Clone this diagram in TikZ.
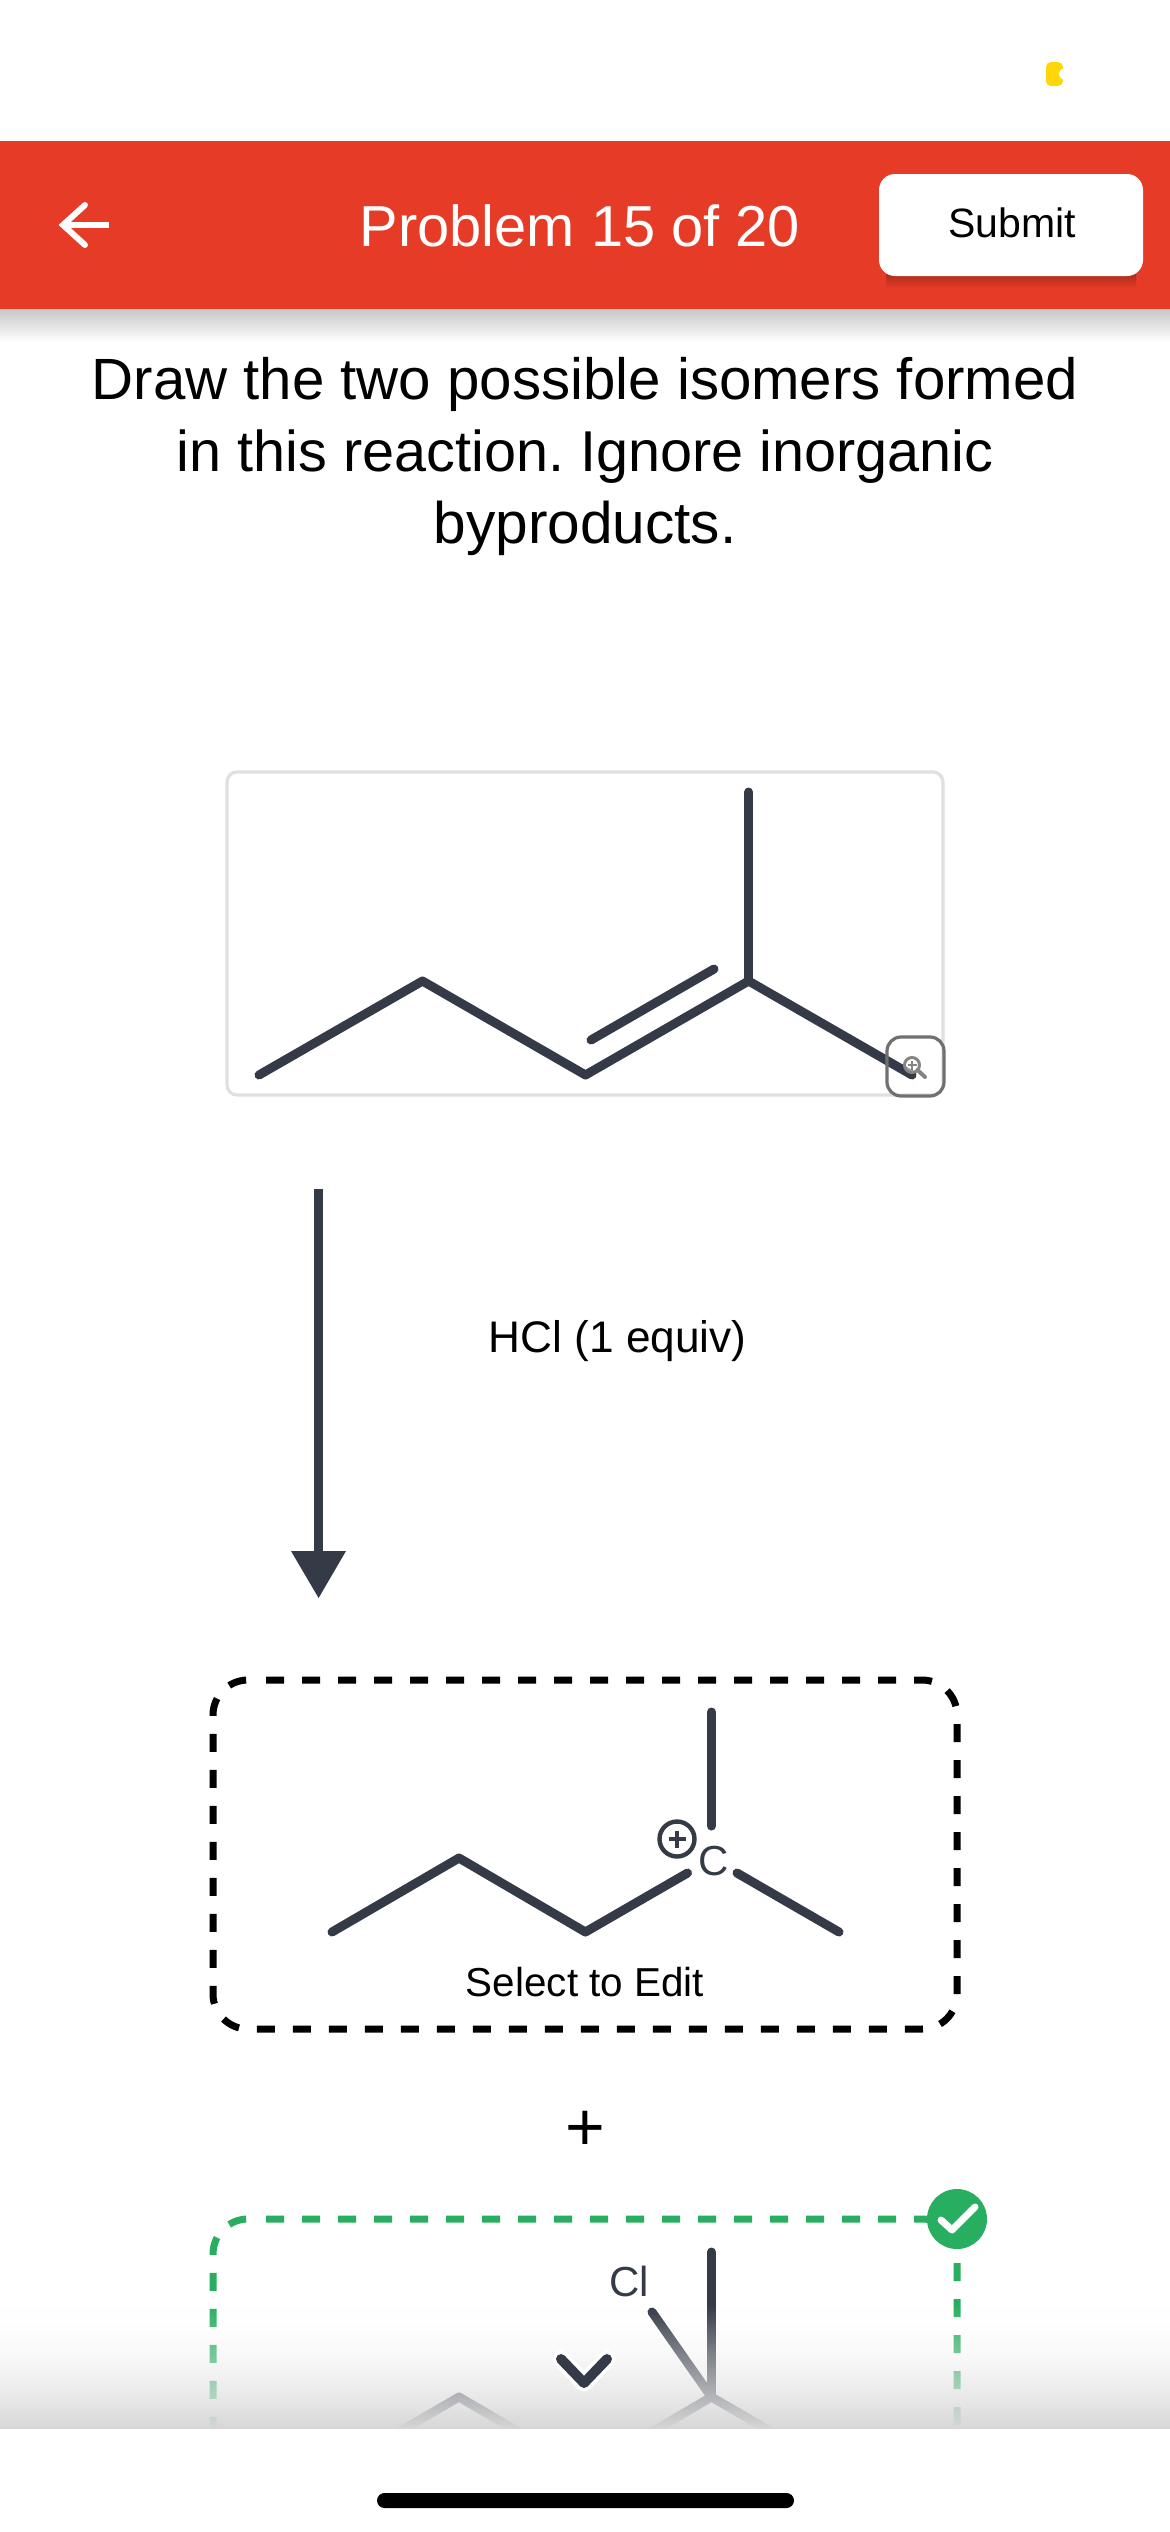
\documentclass[tikz,border=0pt]{standalone}
\usepackage{fontspec}
\setmainfont{Liberation Sans}
\usetikzlibrary{fadings,arrows.meta}
\definecolor{ink}{HTML}{343A46}
\definecolor{redbar}{HTML}{E63B26}
\definecolor{okgreen}{HTML}{27AE60}
\tikzfading[name=risefade, top color=transparent!100, bottom color=transparent!0]
\tikzset{
  bond/.style={draw=ink,line width=4.5pt,line cap=round,line join=round},
  dashbox/.style={line width=3.5pt,dash pattern=on 9pt off 9pt,dash phase=9pt,rounded corners=17.5pt},
  txt/.style={inner sep=0pt,outer sep=0pt,anchor=base},
}
\newcommand{\fs}[1]{\fontsize{#1}{#1}\selectfont}
\frenchspacing
\begin{document}
\begin{tikzpicture}[x=0.5pt,y=-0.5pt]
\useasboundingbox (0,0) rectangle (1170,2532);
\fill[white] (0,0) rectangle (1170,2532);
% status mark
\fill[rounded corners=2.5pt,fill={rgb,255:red,255;green,214;blue,10}] (1046,62) rectangle (1063,86);
\fill[white] (1064,68) .. controls (1057,71) and (1057,77) .. (1064,80) -- cycle;
% header shadow
\shade[top color=black!22,bottom color=white] (0,309) rectangle (1170,342);
\fill[redbar] (0,141) rectangle (1170,309);
\shade[top color=black!24!redbar,bottom color=redbar] (886,274) rectangle (1136,288);
\fill[white,rounded corners=8pt] (879,174) rectangle (1143,276);
\coordinate (bt) at (109,225); \coordinate (bl) at (63,225);
\coordinate (bu) at (85,205); \coordinate (bd) at (85,245);
\draw[white,line width=3pt,line cap=butt] (bt) -- (bl);
\draw[white,line width=3pt,line cap=round,line join=miter] (bu) -- (bl) -- (bd);
\node[txt,text=white,font=\fs{28.9}] (title) at (580,246) {Problem 15 of 20};
\node[txt,text=black,font=\fs{20.5}] (submit) at (1012,237) {Submit};
% question
\node[txt,font=\fs{29.1}] (q1) at (585,399) {Draw the two possible isomers formed};
\node[txt,font=\fs{28.8}] (q2) at (585,471) {in this reaction. Ignore inorganic};
\node[txt,font=\fs{29.3}] (q3) at (585,543) {byproducts.};
% molecule box
\draw[black!12,line width=1.6pt,rounded corners=5pt] (227,772) rectangle (943,1095);
\coordinate (a1) at (259,1075); \coordinate (a2) at (422.5,981);
\coordinate (a3) at (585.5,1075); \coordinate (a4) at (748.6,981);
\coordinate (a5) at (912,1075); \coordinate (a6) at (748.6,792);
\coordinate (d1) at (591,1040); \coordinate (d2) at (714,969);
\draw[bond] (a1) -- (a2) -- (a3) -- (a4) -- (a5);
\draw[bond] (a4) -- (a6);
\draw[bond] (d1) -- (d2);
\draw[black!56,line width=1.6pt,rounded corners=7pt] (887,1037) rectangle (944,1096);
\coordinate (zc) at (912,1065); \coordinate (zh) at (925,1077);
\draw[black!48,line width=1.5pt,fill=white,fill opacity=.55] (zc) circle[radius=7.5];
\draw[black!48,line width=2pt,line cap=round] (917.5,1070) -- (zh);
\draw[black!48,line width=1.2pt] (907.5,1065) -- (916.5,1065) (912,1060.5) -- (912,1069.5);
% reaction arrow
\coordinate (ar0) at (318.5,1189); \coordinate (ar1) at (318.5,1556);
\draw[ink,line width=4.9pt] (ar0) -- (ar1);
\fill[ink] (291,1551) -- (346,1551) -- (318.6,1598) -- cycle;
\node[txt,font=\fs{22.1}] (hcl) at (617.5,1352) {HCl (1 equiv)};
% first answer box
\draw[black,dashbox] (248,1680) -- (957,1680) -- (957,2029) -- (213,2029) -- (213,1680) -- (248,1680);
\coordinate (b1) at (332,1932); \coordinate (b2) at (459,1858); \coordinate (b3) at (585.4,1932);
\coordinate (b4) at (687.5,1873); \coordinate (b5) at (737,1873); \coordinate (b6) at (839,1932);
\coordinate (b7) at (711.4,1712); \coordinate (b8) at (711.4,1826);
\draw[bond] (b1) -- (b2) -- (b3) -- (b4);
\draw[bond] (b5) -- (b6);
\draw[bond] (b7) -- (b8);
\node[txt,text=ink,font=\fs{21}] (catom) at (713.5,1875) {C};
\draw[ink,line width=2.2pt] (677,1839) circle[radius=17.5];
\draw[ink,line width=2.2pt] (668.5,1839) -- (685.5,1839) (677,1830.5) -- (677,1847.5);
\node[txt,font=\fs{20.2}] (edit) at (585,1996) {Select to Edit};
\node[txt,font=\fs{34}] (plus) at (585,2150) {+};
% second answer box
\draw[okgreen,dashbox] (248,2219) -- (957,2219) -- (957,2568) -- (213,2568) -- (213,2219) -- (248,2219);
\coordinate (c1) at (332,2471); \coordinate (c2) at (459,2397); \coordinate (c3) at (585.4,2471);
\coordinate (c4) at (711.4,2397); \coordinate (c5) at (839,2471);
\coordinate (c6) at (711.4,2252); \coordinate (c7) at (652,2312);
\draw[bond] (c1) -- (c2) -- (c3) -- (c4) -- (c5);
\draw[bond] (c4) -- (c6);
\draw[bond] (c4) -- (c7);
\node[txt,text=ink,font=\fs{21}] (clatom) at (629,2296) {Cl};
\fill[okgreen] (957,2219) circle[radius=30];
\coordinate (k1) at (941,2220); \coordinate (k2) at (952,2230); \coordinate (k3) at (975,2207);
\draw[white,line width=3.5pt,line cap=round,line join=round] (k1) -- (k2) -- (k3);
% fade
\shade[top color=white,bottom color=black!16,path fading=risefade] (0,2305) rectangle (1170,2429);
\fill[white] (0,2429) rectangle (1170,2532);
% chevron
\coordinate (v1) at (561,2359); \coordinate (v2) at (584,2383); \coordinate (v3) at (607,2359);
\draw[white,line width=8.5pt,line cap=round,line join=round] (v1) -- (v2) -- (v3);
\draw[ink,line width=5pt,line cap=round,line join=round] (v1) -- (v2) -- (v3);
% home indicator
\fill[black,rounded corners=3.75pt] (377,2493) rectangle (794,2508);
\end{tikzpicture}
\end{document}
